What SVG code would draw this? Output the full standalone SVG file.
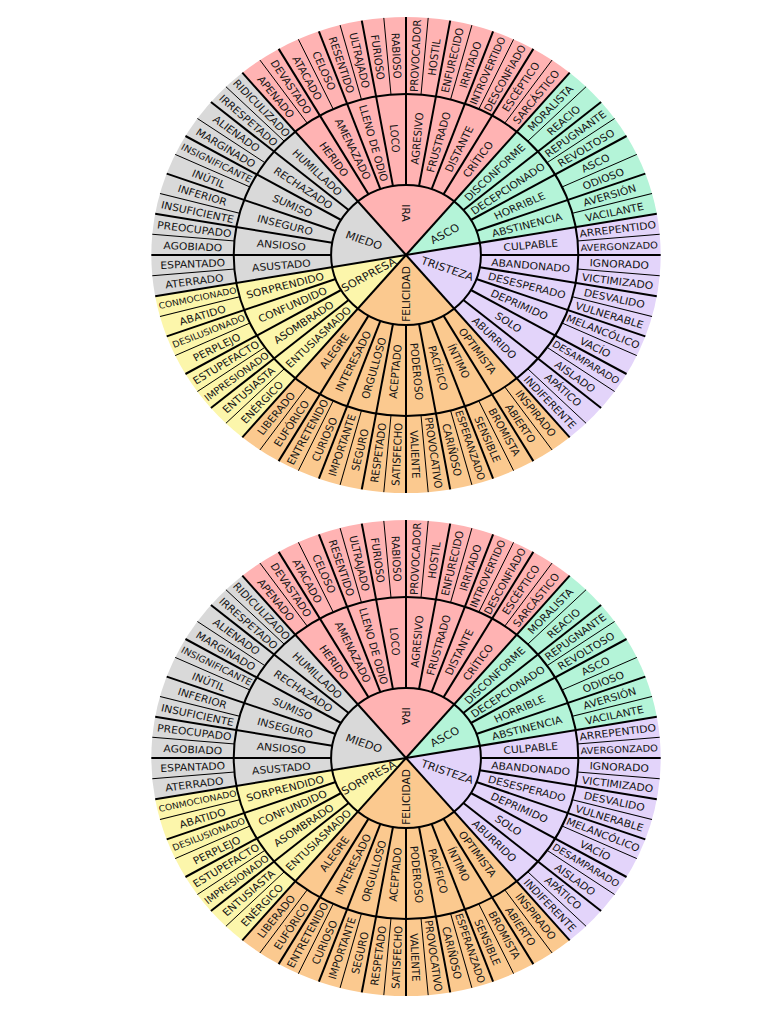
<svg xmlns="http://www.w3.org/2000/svg" width="768" height="1024" viewBox="0 0 768 1024">
<style>
text{font-family:"DejaVu Sans","Liberation Sans",sans-serif;fill:#151515;text-anchor:middle;dominant-baseline:central}
.o{font-size:10.1px}
.m{font-size:10.1px}
.c{font-size:10.6px}
.k{stroke:#000;stroke-width:2;fill:none}
.n{stroke:#000;stroke-width:1}
line,circle{vector-effect:non-scaling-stroke}
</style>
<defs>
<g id="base">
<path fill="#ffb3b3" d="M0,0L-153,-182.3A238,238 0 0 1 153,-182.3Z"/>
<path fill="#b4f4d8" d="M0,0L153,-182.3A238,238 0 0 1 234.4,-41.3Z"/>
<path fill="#e3d4fa" d="M0,0L234.4,-41.3A238,238 0 0 1 153,182.3Z"/>
<path fill="#fbc98f" d="M0,0L153,182.3A238,238 0 0 1 -153,182.3Z"/>
<path fill="#fcf6ab" d="M0,0L-153,182.3A238,238 0 0 1 -234.4,41.3Z"/>
<path fill="#d9d9d9" d="M0,0L-234.4,41.3A238,238 0 0 1 -153,-182.3Z"/>
</g>
<g id="spokes">
<g class="n">
<line y1="-161" y2="-238" transform="rotate(5)"/><line y1="-161" y2="-238" transform="rotate(15)"/><line y1="-161" y2="-238" transform="rotate(25)"/><line y1="-161" y2="-238" transform="rotate(35)"/><line y1="-161" y2="-238" transform="rotate(45)"/><line y1="-161" y2="-238" transform="rotate(55)"/><line y1="-161" y2="-238" transform="rotate(65)"/><line y1="-161" y2="-238" transform="rotate(75)"/><line y1="-161" y2="-238" transform="rotate(85)"/><line y1="-161" y2="-238" transform="rotate(95)"/><line y1="-161" y2="-238" transform="rotate(105)"/><line y1="-161" y2="-238" transform="rotate(115)"/><line y1="-161" y2="-238" transform="rotate(125)"/><line y1="-161" y2="-238" transform="rotate(135)"/><line y1="-161" y2="-238" transform="rotate(145)"/><line y1="-161" y2="-238" transform="rotate(155)"/><line y1="-161" y2="-238" transform="rotate(165)"/><line y1="-161" y2="-238" transform="rotate(175)"/><line y1="-161" y2="-238" transform="rotate(185)"/><line y1="-161" y2="-238" transform="rotate(195)"/><line y1="-161" y2="-238" transform="rotate(205)"/><line y1="-161" y2="-238" transform="rotate(215)"/><line y1="-161" y2="-238" transform="rotate(225)"/><line y1="-161" y2="-238" transform="rotate(235)"/><line y1="-161" y2="-238" transform="rotate(245)"/><line y1="-161" y2="-238" transform="rotate(255)"/><line y1="-161" y2="-238" transform="rotate(265)"/><line y1="-161" y2="-238" transform="rotate(275)"/><line y1="-161" y2="-238" transform="rotate(285)"/><line y1="-161" y2="-238" transform="rotate(295)"/><line y1="-161" y2="-238" transform="rotate(305)"/><line y1="-161" y2="-238" transform="rotate(315)"/><line y1="-161" y2="-238" transform="rotate(325)"/><line y1="-161" y2="-238" transform="rotate(335)"/><line y1="-161" y2="-238" transform="rotate(345)"/><line y1="-161" y2="-238" transform="rotate(355)"/>
</g>
<g class="k">
<circle r="70"/><circle r="161"/>
<line y2="-238" transform="rotate(-40)"/><line y2="-238" transform="rotate(40)"/><line y2="-238" transform="rotate(80)"/><line y2="-238" transform="rotate(140)"/><line y2="-238" transform="rotate(220)"/><line y2="-238" transform="rotate(260)"/>
<line y1="-70" y2="-238" transform="rotate(-30)"/><line y1="-70" y2="-238" transform="rotate(-20)"/><line y1="-70" y2="-238" transform="rotate(-10)"/><line y1="-70" y2="-238"/><line y1="-70" y2="-238" transform="rotate(10)"/><line y1="-70" y2="-238" transform="rotate(20)"/><line y1="-70" y2="-238" transform="rotate(30)"/>
<line y1="-70" y2="-238" transform="rotate(50)"/><line y1="-70" y2="-238" transform="rotate(60)"/><line y1="-70" y2="-238" transform="rotate(70)"/>
<line y1="-70" y2="-238" transform="rotate(90)"/><line y1="-70" y2="-238" transform="rotate(100)"/><line y1="-70" y2="-238" transform="rotate(110)"/><line y1="-70" y2="-238" transform="rotate(120)"/><line y1="-70" y2="-238" transform="rotate(130)"/>
<line y1="-70" y2="-238" transform="rotate(150)"/><line y1="-70" y2="-238" transform="rotate(160)"/><line y1="-70" y2="-238" transform="rotate(170)"/><line y1="-70" y2="-238" transform="rotate(180)"/><line y1="-70" y2="-238" transform="rotate(190)"/><line y1="-70" y2="-238" transform="rotate(200)"/><line y1="-70" y2="-238" transform="rotate(210)"/>
<line y1="-70" y2="-238" transform="rotate(230)"/><line y1="-70" y2="-238" transform="rotate(240)"/><line y1="-70" y2="-238" transform="rotate(250)"/>
<line y1="-70" y2="-238" transform="rotate(270)"/><line y1="-70" y2="-238" transform="rotate(280)"/><line y1="-70" y2="-238" transform="rotate(290)"/><line y1="-70" y2="-238" transform="rotate(300)"/><line y1="-70" y2="-238" transform="rotate(310)"/>
</g>
</g>
</defs>

<g id="wheel1" transform="translate(406,255) scale(1.07,1)">
<use href="#base"/>
<g id="wheel1-connectors"><use href="#spokes"/></g>
<g id="w1-ira">
<text class="c" transform="rotate(90)" x="-42">IRA</text>
<g class="m">
<text transform="rotate(85)" x="-117">LOCO</text><text transform="rotate(75)" x="-116" style="font-size:9.9px">LLENO DE ODIO</text><text transform="rotate(65)" x="-117">AMENAZADO</text><text transform="rotate(55)" x="-117">HERIDO</text>
<text transform="rotate(-85)" x="117">AGRESIVO</text><text transform="rotate(-75)" x="117">FRUSTRADO</text><text transform="rotate(-65)" x="117">DISTANTE</text><text transform="rotate(-55)" x="117">CRÍTICO</text>
</g>
<g class="o">
<text transform="rotate(87.5)" x="-199.5">RABIOSO</text><text transform="rotate(82.5)" x="-199.5">FURIOSO</text><text transform="rotate(77.5)" x="-199.5">ULTRAJADO</text><text transform="rotate(72.5)" x="-199.5">RESENTIDO</text><text transform="rotate(67.5)" x="-199.5">CELOSO</text><text transform="rotate(62.5)" x="-199.5">ATACADO</text><text transform="rotate(57.5)" x="-199.5">DEVASTADO</text><text transform="rotate(52.5)" x="-199.5">APENADO</text>
<text transform="rotate(-87.5)" x="199.5">PROVOCADOR</text><text transform="rotate(-82.5)" x="199.5">HOSTIL</text><text transform="rotate(-77.5)" x="199.5">ENFURECIDO</text><text transform="rotate(-72.5)" x="199.5">IRRITADO</text><text transform="rotate(-67.5)" x="199.5" style="font-size:9.6px">INTROVERTIDO</text><text transform="rotate(-62.5)" x="199.5" style="font-size:9.9px">DESCONFIADO</text><text transform="rotate(-57.5)" x="199.5">ESCÉPTICO</text><text transform="rotate(-52.5)" x="199.5">SARCÁSTICO</text>
</g>
</g>
<g id="w1-asco">
<text class="c" transform="rotate(-30)" x="42">ASCO</text>
<g class="m">
<text transform="rotate(-45)" x="117">DISCONFORME</text><text transform="rotate(-35)" x="116">DECEPCIONADO</text><text transform="rotate(-25)" x="117">HORRIBLE</text><text transform="rotate(-15)" x="117">ABSTINENCIA</text>
</g>
<g class="o">
<text transform="rotate(-47.5)" x="199.5">MORALISTA</text><text transform="rotate(-42.5)" x="199.5">REACIO</text><text transform="rotate(-37.5)" x="199.5">REPUGNANTE</text><text transform="rotate(-32.5)" x="199.5">REVOLTOSO</text><text transform="rotate(-27.5)" x="199.5">ASCO</text><text transform="rotate(-22.5)" x="199.5">ODIOSO</text><text transform="rotate(-17.5)" x="199.5">AVERSIÓN</text><text transform="rotate(-12.5)" x="199.5">VACILANTE</text>
</g>
</g>
<g id="w1-tristeza">
<text class="c" transform="rotate(20)" x="41">TRISTEZA</text>
<g class="m">
<text transform="rotate(-5)" x="117">CULPABLE</text><text transform="rotate(5)" x="117">ABANDONADO</text><text transform="rotate(15)" x="117">DESESPERADO</text><text transform="rotate(25)" x="117">DEPRIMIDO</text><text transform="rotate(35)" x="117">SOLO</text><text transform="rotate(45)" x="117">ABURRIDO</text>
</g>
<g class="o">
<text transform="rotate(-7.5)" x="199.5">ARREPENTIDO</text><text transform="rotate(-2.5)" x="199.5" style="font-size:9.2px">AVERGONZADO</text><text transform="rotate(2.5)" x="199.5">IGNORADO</text><text transform="rotate(7.5)" x="199.5">VICTIMIZADO</text><text transform="rotate(12.5)" x="199.5">DESVALIDO</text><text transform="rotate(17.5)" x="199.5">VULNERABLE</text><text transform="rotate(22.5)" x="199.5" style="font-size:10px">MELANCÓLICO</text><text transform="rotate(27.5)" x="199.5">VACÍO</text><text transform="rotate(32.5)" x="199.5" style="font-size:9.35px">DESAMPARADO</text><text transform="rotate(37.5)" x="199.5">AISLADO</text><text transform="rotate(42.5)" x="199.5">APÁTICO</text><text transform="rotate(47.5)" x="199.5">INDIFERENTE</text>
</g>
</g>
<g id="w1-felicidad">
<text class="c" transform="rotate(-90)" x="-39">FELICIDAD</text>
<g class="m">
<text transform="rotate(55)" x="117">OPTIMISTA</text><text transform="rotate(65)" x="117">ÍNTIMO</text><text transform="rotate(75)" x="117">PACÍFICO</text><text transform="rotate(85)" x="117">PODEROSO</text>
<text transform="rotate(-85)" x="-117">ACEPTADO</text><text transform="rotate(-75)" x="-117">ORGULLOSO</text><text transform="rotate(-65)" x="-117">INTERESADO</text><text transform="rotate(-55)" x="-117">ALEGRE</text>
</g>
<g class="o">
<text transform="rotate(52.5)" x="199.5">INSPIRADO</text><text transform="rotate(57.5)" x="199.5">ABIERTO</text><text transform="rotate(62.5)" x="199.5">BROMISTA</text><text transform="rotate(67.5)" x="199.5">SENSIBLE</text><text transform="rotate(72.5)" x="199.5" style="font-size:9.65px">ESPERANZADO</text><text transform="rotate(77.5)" x="199.5">CARIÑOSO</text><text transform="rotate(82.5)" x="199.5" style="font-size:10px">PROVOCATIVO</text><text transform="rotate(87.5)" x="199.5">VALIENTE</text>
<text transform="rotate(-87.5)" x="-199.5">SATISFECHO</text><text transform="rotate(-82.5)" x="-199.5">RESPETADO</text><text transform="rotate(-77.5)" x="-199.5">SEGURO</text><text transform="rotate(-72.5)" x="-199.5">IMPORTANTE</text><text transform="rotate(-67.5)" x="-199.5">CURIOSO</text><text transform="rotate(-62.5)" x="-199.5">ENTRETENIDO</text><text transform="rotate(-57.5)" x="-199.5">EUFÓRICO</text><text transform="rotate(-52.5)" x="-199.5">LIBERADO</text>
</g>
</g>
<g id="w1-sorpresa">
<text class="c" transform="rotate(-30)" x="-40">SORPRESA</text>
<g class="m">
<text transform="rotate(-15)" x="-117">SORPRENDIDO</text><text transform="rotate(-25)" x="-117">CONFUNDIDO</text><text transform="rotate(-35)" x="-117">ASOMBRADO</text><text transform="rotate(-45)" x="-116">ENTUSIASMADO</text>
</g>
<g class="o">
<text transform="rotate(-12.5)" x="-199.5" style="font-size:8.6px">CONMOCIONADO</text><text transform="rotate(-17.5)" x="-199.5">ABATIDO</text><text transform="rotate(-22.5)" x="-199.5" style="font-size:8.8px">DESILUSIONADO</text><text transform="rotate(-27.5)" x="-199.5">PERPLEJO</text><text transform="rotate(-32.5)" x="-199.5">ESTUPEFACTO</text><text transform="rotate(-37.5)" x="-199.5" style="font-size:9.4px">IMPRESIONADO</text><text transform="rotate(-42.5)" x="-199.5">ENTUSIASTA</text><text transform="rotate(-47.5)" x="-199.5">ENÉRGICO</text>
</g>
</g>
<g id="w1-miedo">
<text class="c" transform="rotate(20)" x="-42">MIEDO</text>
<g class="m">
<text transform="rotate(-5)" x="-117">ASUSTADO</text><text transform="rotate(5)" x="-117">ANSIOSO</text><text transform="rotate(15)" x="-117">INSEGURO</text><text transform="rotate(25)" x="-117">SUMISO</text><text transform="rotate(35)" x="-117">RECHAZADO</text><text transform="rotate(45)" x="-117">HUMILLADO</text>
</g>
<g class="o">
<text transform="rotate(-7.5)" x="-199.5">ATERRADO</text><text transform="rotate(-2.5)" x="-199.5">ESPANTADO</text><text transform="rotate(2.5)" x="-199.5">AGOBIADO</text><text transform="rotate(7.5)" x="-199.5">PREOCUPADO</text><text transform="rotate(12.5)" x="-199.5">INSUFICIENTE</text><text transform="rotate(17.5)" x="-199.5">INFERIOR</text><text transform="rotate(22.5)" x="-199.5">INÚTIL</text><text transform="rotate(27.5)" x="-199.5" style="font-size:9.1px">INSIGNIFICANTE</text><text transform="rotate(32.5)" x="-199.5">MARGINADO</text><text transform="rotate(37.5)" x="-199.5">ALIENADO</text><text transform="rotate(42.5)" x="-199.5">IRRESPETADO</text><text transform="rotate(47.5)" x="-199.5">RIDICULIZADO</text>
</g>
</g>
</g>

<g id="wheel2" transform="translate(406,758) scale(1.07,1)">
<use href="#base"/>
<g id="wheel2-connectors"><use href="#spokes"/></g>
<g id="w2-ira">
<text class="c" transform="rotate(90)" x="-42">IRA</text>
<g class="m">
<text transform="rotate(85)" x="-117">LOCO</text><text transform="rotate(75)" x="-116" style="font-size:9.9px">LLENO DE ODIO</text><text transform="rotate(65)" x="-117">AMENAZADO</text><text transform="rotate(55)" x="-117">HERIDO</text>
<text transform="rotate(-85)" x="117">AGRESIVO</text><text transform="rotate(-75)" x="117">FRUSTRADO</text><text transform="rotate(-65)" x="117">DISTANTE</text><text transform="rotate(-55)" x="117">CRÍTICO</text>
</g>
<g class="o">
<text transform="rotate(87.5)" x="-199.5">RABIOSO</text><text transform="rotate(82.5)" x="-199.5">FURIOSO</text><text transform="rotate(77.5)" x="-199.5">ULTRAJADO</text><text transform="rotate(72.5)" x="-199.5">RESENTIDO</text><text transform="rotate(67.5)" x="-199.5">CELOSO</text><text transform="rotate(62.5)" x="-199.5">ATACADO</text><text transform="rotate(57.5)" x="-199.5">DEVASTADO</text><text transform="rotate(52.5)" x="-199.5">APENADO</text>
<text transform="rotate(-87.5)" x="199.5">PROVOCADOR</text><text transform="rotate(-82.5)" x="199.5">HOSTIL</text><text transform="rotate(-77.5)" x="199.5">ENFURECIDO</text><text transform="rotate(-72.5)" x="199.5">IRRITADO</text><text transform="rotate(-67.5)" x="199.5" style="font-size:9.6px">INTROVERTIDO</text><text transform="rotate(-62.5)" x="199.5" style="font-size:9.9px">DESCONFIADO</text><text transform="rotate(-57.5)" x="199.5">ESCÉPTICO</text><text transform="rotate(-52.5)" x="199.5">SARCÁSTICO</text>
</g>
</g>
<g id="w2-asco">
<text class="c" transform="rotate(-30)" x="42">ASCO</text>
<g class="m">
<text transform="rotate(-45)" x="117">DISCONFORME</text><text transform="rotate(-35)" x="116">DECEPCIONADO</text><text transform="rotate(-25)" x="117">HORRIBLE</text><text transform="rotate(-15)" x="117">ABSTINENCIA</text>
</g>
<g class="o">
<text transform="rotate(-47.5)" x="199.5">MORALISTA</text><text transform="rotate(-42.5)" x="199.5">REACIO</text><text transform="rotate(-37.5)" x="199.5">REPUGNANTE</text><text transform="rotate(-32.5)" x="199.5">REVOLTOSO</text><text transform="rotate(-27.5)" x="199.5">ASCO</text><text transform="rotate(-22.5)" x="199.5">ODIOSO</text><text transform="rotate(-17.5)" x="199.5">AVERSIÓN</text><text transform="rotate(-12.5)" x="199.5">VACILANTE</text>
</g>
</g>
<g id="w2-tristeza">
<text class="c" transform="rotate(20)" x="41">TRISTEZA</text>
<g class="m">
<text transform="rotate(-5)" x="117">CULPABLE</text><text transform="rotate(5)" x="117">ABANDONADO</text><text transform="rotate(15)" x="117">DESESPERADO</text><text transform="rotate(25)" x="117">DEPRIMIDO</text><text transform="rotate(35)" x="117">SOLO</text><text transform="rotate(45)" x="117">ABURRIDO</text>
</g>
<g class="o">
<text transform="rotate(-7.5)" x="199.5">ARREPENTIDO</text><text transform="rotate(-2.5)" x="199.5" style="font-size:9.2px">AVERGONZADO</text><text transform="rotate(2.5)" x="199.5">IGNORADO</text><text transform="rotate(7.5)" x="199.5">VICTIMIZADO</text><text transform="rotate(12.5)" x="199.5">DESVALIDO</text><text transform="rotate(17.5)" x="199.5">VULNERABLE</text><text transform="rotate(22.5)" x="199.5" style="font-size:10px">MELANCÓLICO</text><text transform="rotate(27.5)" x="199.5">VACÍO</text><text transform="rotate(32.5)" x="199.5" style="font-size:9.35px">DESAMPARADO</text><text transform="rotate(37.5)" x="199.5">AISLADO</text><text transform="rotate(42.5)" x="199.5">APÁTICO</text><text transform="rotate(47.5)" x="199.5">INDIFERENTE</text>
</g>
</g>
<g id="w2-felicidad">
<text class="c" transform="rotate(-90)" x="-39">FELICIDAD</text>
<g class="m">
<text transform="rotate(55)" x="117">OPTIMISTA</text><text transform="rotate(65)" x="117">ÍNTIMO</text><text transform="rotate(75)" x="117">PACÍFICO</text><text transform="rotate(85)" x="117">PODEROSO</text>
<text transform="rotate(-85)" x="-117">ACEPTADO</text><text transform="rotate(-75)" x="-117">ORGULLOSO</text><text transform="rotate(-65)" x="-117">INTERESADO</text><text transform="rotate(-55)" x="-117">ALEGRE</text>
</g>
<g class="o">
<text transform="rotate(52.5)" x="199.5">INSPIRADO</text><text transform="rotate(57.5)" x="199.5">ABIERTO</text><text transform="rotate(62.5)" x="199.5">BROMISTA</text><text transform="rotate(67.5)" x="199.5">SENSIBLE</text><text transform="rotate(72.5)" x="199.5" style="font-size:9.65px">ESPERANZADO</text><text transform="rotate(77.5)" x="199.5">CARIÑOSO</text><text transform="rotate(82.5)" x="199.5" style="font-size:10px">PROVOCATIVO</text><text transform="rotate(87.5)" x="199.5">VALIENTE</text>
<text transform="rotate(-87.5)" x="-199.5">SATISFECHO</text><text transform="rotate(-82.5)" x="-199.5">RESPETADO</text><text transform="rotate(-77.5)" x="-199.5">SEGURO</text><text transform="rotate(-72.5)" x="-199.5">IMPORTANTE</text><text transform="rotate(-67.5)" x="-199.5">CURIOSO</text><text transform="rotate(-62.5)" x="-199.5">ENTRETENIDO</text><text transform="rotate(-57.5)" x="-199.5">EUFÓRICO</text><text transform="rotate(-52.5)" x="-199.5">LIBERADO</text>
</g>
</g>
<g id="w2-sorpresa">
<text class="c" transform="rotate(-30)" x="-40">SORPRESA</text>
<g class="m">
<text transform="rotate(-15)" x="-117">SORPRENDIDO</text><text transform="rotate(-25)" x="-117">CONFUNDIDO</text><text transform="rotate(-35)" x="-117">ASOMBRADO</text><text transform="rotate(-45)" x="-116">ENTUSIASMADO</text>
</g>
<g class="o">
<text transform="rotate(-12.5)" x="-199.5" style="font-size:8.6px">CONMOCIONADO</text><text transform="rotate(-17.5)" x="-199.5">ABATIDO</text><text transform="rotate(-22.5)" x="-199.5" style="font-size:8.8px">DESILUSIONADO</text><text transform="rotate(-27.5)" x="-199.5">PERPLEJO</text><text transform="rotate(-32.5)" x="-199.5">ESTUPEFACTO</text><text transform="rotate(-37.5)" x="-199.5" style="font-size:9.4px">IMPRESIONADO</text><text transform="rotate(-42.5)" x="-199.5">ENTUSIASTA</text><text transform="rotate(-47.5)" x="-199.5">ENÉRGICO</text>
</g>
</g>
<g id="w2-miedo">
<text class="c" transform="rotate(20)" x="-42">MIEDO</text>
<g class="m">
<text transform="rotate(-5)" x="-117">ASUSTADO</text><text transform="rotate(5)" x="-117">ANSIOSO</text><text transform="rotate(15)" x="-117">INSEGURO</text><text transform="rotate(25)" x="-117">SUMISO</text><text transform="rotate(35)" x="-117">RECHAZADO</text><text transform="rotate(45)" x="-117">HUMILLADO</text>
</g>
<g class="o">
<text transform="rotate(-7.5)" x="-199.5">ATERRADO</text><text transform="rotate(-2.5)" x="-199.5">ESPANTADO</text><text transform="rotate(2.5)" x="-199.5">AGOBIADO</text><text transform="rotate(7.5)" x="-199.5">PREOCUPADO</text><text transform="rotate(12.5)" x="-199.5">INSUFICIENTE</text><text transform="rotate(17.5)" x="-199.5">INFERIOR</text><text transform="rotate(22.5)" x="-199.5">INÚTIL</text><text transform="rotate(27.5)" x="-199.5" style="font-size:9.1px">INSIGNIFICANTE</text><text transform="rotate(32.5)" x="-199.5">MARGINADO</text><text transform="rotate(37.5)" x="-199.5">ALIENADO</text><text transform="rotate(42.5)" x="-199.5">IRRESPETADO</text><text transform="rotate(47.5)" x="-199.5">RIDICULIZADO</text>
</g>
</g>
</g>
</svg>
